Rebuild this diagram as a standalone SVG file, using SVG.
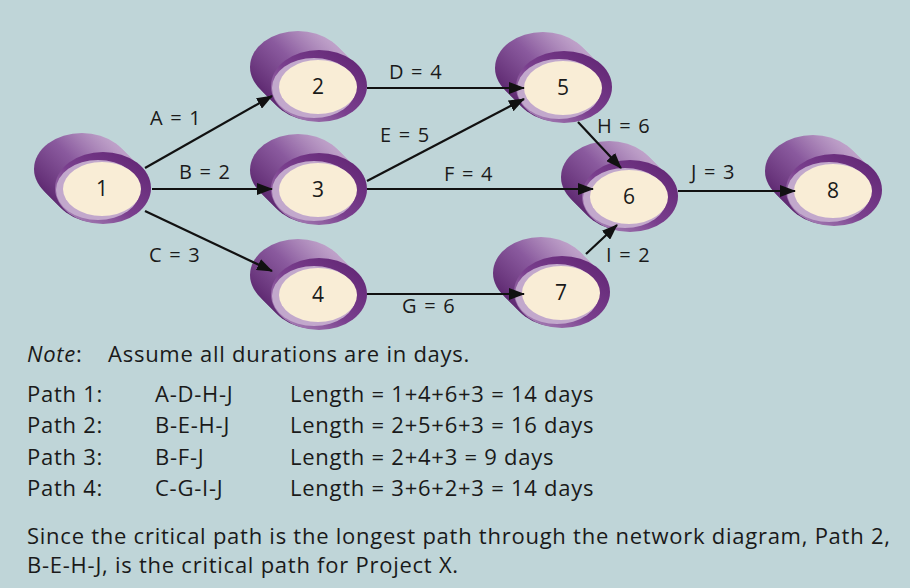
<svg xmlns="http://www.w3.org/2000/svg" xmlns:xlink="http://www.w3.org/1999/xlink" width="910" height="588" viewBox="0 0 910 588">
<style>
text{font-family:"Open Sans","Liberation Sans",sans-serif;fill:#1a1a1a}
.n{font-size:21px;text-anchor:middle}
.l{font-size:20px;letter-spacing:1.2px}
.b{font-size:22px;letter-spacing:0.75px}
.e{stroke:#111;stroke-width:2.2;fill:none;marker-end:url(#ah)}
</style>
<defs>
<marker id="ah" markerWidth="16" markerHeight="12" refX="15" refY="6" orient="auto" markerUnits="userSpaceOnUse" viewBox="0 0 16 12"><path d="M0,0L16,6L0,12z" fill="#111"/></marker>
<linearGradient id="bk" x1="0" y1="1" x2="1" y2="0"><stop offset="0" stop-color="#4e1760"/><stop offset="0.55" stop-color="#8a5a9e"/><stop offset="1" stop-color="#d8c4de"/></linearGradient>
<linearGradient id="rg" x1="0" y1="1" x2="1" y2="0"><stop offset="0" stop-color="#b596c2"/><stop offset="0.45" stop-color="#7a3f8e"/><stop offset="1" stop-color="#5e2270"/></linearGradient>
<g id="node">
<ellipse cx="-20" cy="-20" rx="48" ry="36" fill="url(#bk)"/>
<ellipse cx="-18" cy="-18" rx="48" ry="36" fill="url(#bk)"/>
<ellipse cx="-16" cy="-16" rx="48" ry="36" fill="url(#bk)"/>
<ellipse cx="-14" cy="-14" rx="48" ry="36" fill="url(#bk)"/>
<ellipse cx="-12" cy="-12" rx="48" ry="36" fill="url(#bk)"/>
<ellipse cx="-10" cy="-10" rx="48" ry="36" fill="url(#bk)"/>
<ellipse cx="-8" cy="-8" rx="48" ry="36" fill="url(#bk)"/>
<ellipse cx="-6" cy="-6" rx="48" ry="36" fill="url(#bk)"/>
<ellipse cx="-4" cy="-4" rx="48" ry="36" fill="url(#bk)"/>
<ellipse cx="-2" cy="-2" rx="48" ry="36" fill="url(#bk)"/>
<ellipse cx="1" cy="-1" rx="48" ry="36" fill="url(#rg)"/>
<ellipse cx="-4" cy="1" rx="42" ry="30" fill="#c2a8cc"/>
<ellipse cx="0" cy="0" rx="39" ry="27" fill="#f9edd6"/>
</g>
</defs>
<rect width="910" height="588" fill="#bfd5d8"/>
<g id="n1"><use xlink:href="#node" x="102" y="189"/><text class="n" x="102" y="196">1</text></g>
<g id="n2"><use xlink:href="#node" x="318" y="87"/><text class="n" x="318" y="94">2</text></g>
<g id="n3"><use xlink:href="#node" x="318" y="190"/><text class="n" x="318" y="197">3</text></g>
<g id="n4"><use xlink:href="#node" x="318" y="295"/><text class="n" x="318" y="302">4</text></g>
<g id="n5"><use xlink:href="#node" x="563" y="88"/><text class="n" x="563" y="95">5</text></g>
<g id="n6"><use xlink:href="#node" x="629" y="197"/><text class="n" x="629" y="204">6</text></g>
<g id="n7"><use xlink:href="#node" x="561" y="293"/><text class="n" x="561" y="300">7</text></g>
<g id="n8"><use xlink:href="#node" x="833" y="191"/><text class="n" x="833" y="198">8</text></g>
<g id="connectors">
<path class="e" d="M145,168L272,96"/>
<path class="e" d="M152,189L272,189"/>
<path class="e" d="M145,211L272,271"/>
<path class="e" d="M367,88L524,88"/>
<path class="e" d="M367,181L524,99"/>
<path class="e" d="M367,189L593,189"/>
<path class="e" d="M578,122L621,168"/>
<path class="e" d="M367,294L524,294"/>
<path class="e" d="M586,254L617,225"/>
<path class="e" d="M678,191L795,191"/>
<text class="l" x="150" y="125">A = 1</text>
<text class="l" x="179" y="179">B = 2</text>
<text class="l" x="149" y="262">C = 3</text>
<text class="l" x="389" y="79">D = 4</text>
<text class="l" x="380" y="142">E = 5</text>
<text class="l" x="444" y="181">F = 4</text>
<text class="l" x="597" y="133">H = 6</text>
<text class="l" x="691" y="179">J = 3</text>
<text class="l" x="606" y="262">I = 2</text>
<text class="l" x="402" y="313">G = 6</text>
</g>
<g id="notes" class="b">
<text x="27" y="362"><tspan font-style="italic">Note</tspan>:</text><text x="108" y="362">Assume all durations are in days.</text>
<text x="27" y="402">Path 1:</text><text x="155" y="402">A-D-H-J</text><text x="290" y="402">Length = 1+4+6+3 = 14 days</text>
<text x="27" y="433">Path 2:</text><text x="155" y="433">B-E-H-J</text><text x="290" y="433">Length = 2+5+6+3 = 16 days</text>
<text x="27" y="465">Path 3:</text><text x="155" y="465">B-F-J</text><text x="290" y="465">Length = 2+4+3 = 9 days</text>
<text x="27" y="496">Path 4:</text><text x="155" y="496">C-G-I-J</text><text x="290" y="496">Length = 3+6+2+3 = 14 days</text>
<text x="27" y="544">Since the critical path is the longest path through the network diagram, Path 2,</text>
<text x="27" y="573">B-E-H-J, is the critical path for Project X.</text>
</g>
</svg>
